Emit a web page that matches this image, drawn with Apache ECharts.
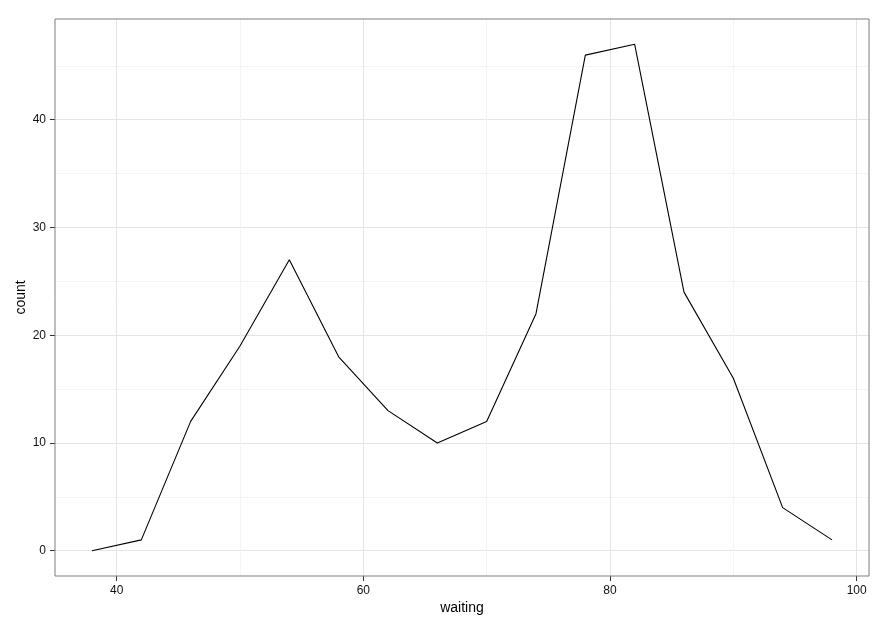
<!DOCTYPE html>
<html>
<head>
<meta charset="utf-8">
<script src="https://cdn.jsdelivr.net/npm/echarts@6/dist/echarts.min.js"></script>
<style>
  html, body { margin: 0; padding: 0; background: #fff; }
  #chart { width: 889px; height: 629px; }
</style>
</head>
<body>
<div id="chart"></div>
<script>
// bin centres (binwidth 4) and counts
const waiting = [38, 42, 46, 50, 54, 58, 62, 66, 70, 74, 78, 82, 86, 90, 94, 98];
const counts = [0, 1, 12, 19, 27, 18, 13, 10, 12, 22, 46, 47, 24, 16, 4, 1];

const xTicks = [40, 60, 80, 100];
const xMinor = [50, 70, 90];
const yTicks = [0, 10, 20, 30, 40];
const yMinor = [5, 15, 25, 35, 45];

const xMin = 35, xMax = 101;
const yMin = -2.35, yMax = 49.35;

const chart = echarts.init(document.getElementById('chart'));

const font = 'Arial, "Liberation Sans", sans-serif';
const textStyle = { color: '#111', fontSize: 12, fontFamily: font };

// hidden axes that only draw the minor grid
const minorAxis = (pos, vals, min, max) => ({
  type: 'value', position: pos, min: min, max: max,
  axisLine: { show: false, onZero: false },
  axisTick: { show: false, customValues: vals },
  axisLabel: { show: false, customValues: vals },
  splitLine: { show: true, lineStyle: { color: '#f4f4f4', width: 1 } }
});

const mainAxis = (pos, name, gap, vals, min, max, margin) => ({
  type: 'value', position: pos, min: min, max: max,
  name: name, nameLocation: 'middle', nameGap: gap, nameMoveOverlap: false,
  nameTextStyle: { color: '#000', fontSize: 14, fontFamily: font },
  axisLine: { show: false, onZero: false },
  axisTick: { show: true, length: 5, customValues: vals, lineStyle: { color: '#333' } },
  axisLabel: Object.assign({ customValues: vals, margin: margin }, textStyle),
  splitLine: { show: true, lineStyle: { color: '#e5e5e5', width: 1 } }
});

chart.setOption({
  animation: false,
  grid: {
    left: 55, right: 20, top: 19, bottom: 53,
    outerBoundsMode: 'none',
    show: true, borderColor: '#7f7f7f', borderWidth: 1, z: 10
  },
  xAxis: [
    minorAxis('bottom', xMinor, xMin, xMax),
    mainAxis('bottom', 'waiting', 25, xTicks, xMin, xMax, 9)
  ],
  yAxis: [
    minorAxis('left', yMinor, yMin, yMax),
    mainAxis('left', 'count', 27, yTicks, yMin, yMax, 9)
  ],
  series: [{
    type: 'line',
    xAxisIndex: 1,
    yAxisIndex: 1,
    data: waiting.map((w, i) => [w, counts[i]]),
    showSymbol: false,
    lineStyle: { color: '#000', width: 1.1 },
    z: 5
  }]
});
</script>
</body>
</html>
